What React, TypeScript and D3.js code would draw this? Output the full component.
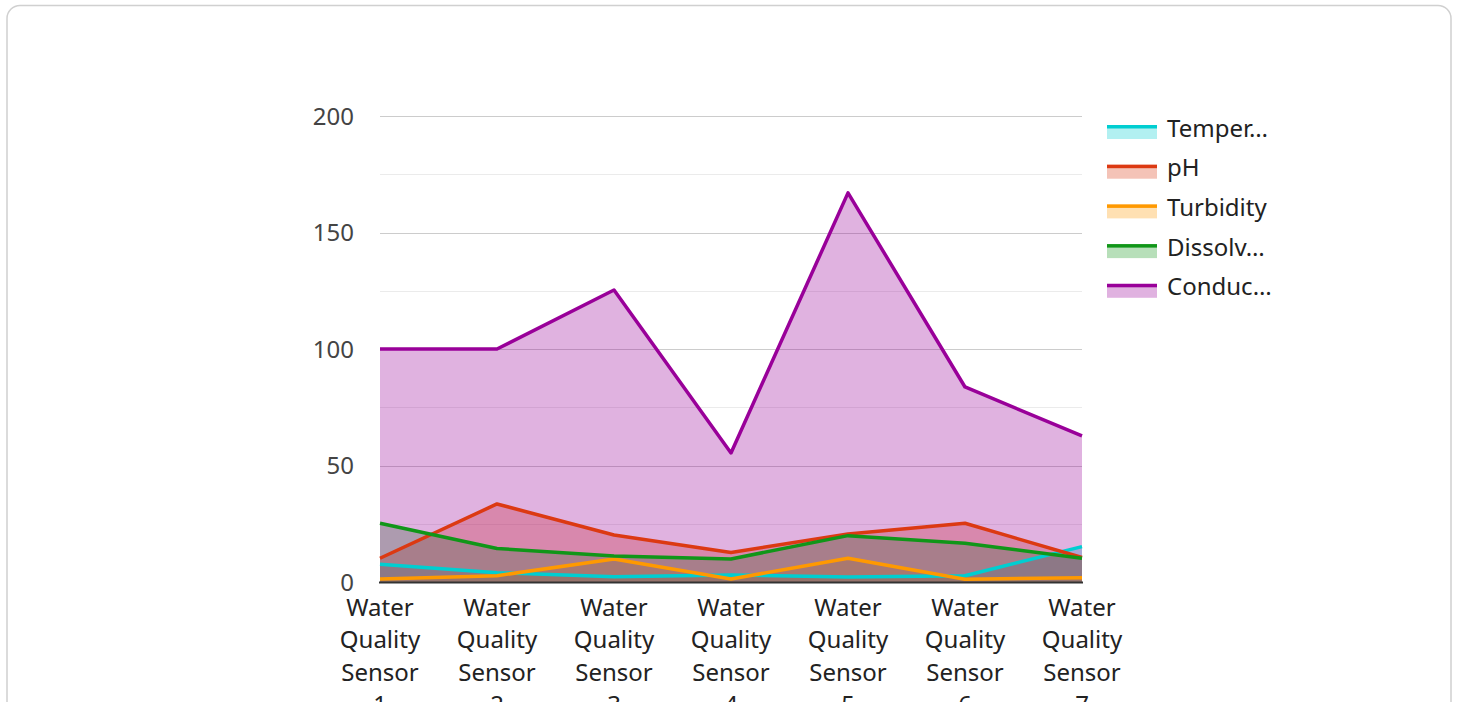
import React, { useRef, useEffect } from 'react';
import * as d3 from 'd3';

const categories = [
  'Water Quality Sensor 1',
  'Water Quality Sensor 2',
  'Water Quality Sensor 3',
  'Water Quality Sensor 4',
  'Water Quality Sensor 5',
  'Water Quality Sensor 6',
  'Water Quality Sensor 7',
];

const seriesNames = ['Temperature', 'pH', 'Turbidity', 'Dissolved Oxygen', 'Conductivity'];
const legendLabels = ['Temper…', 'pH', 'Turbidity', 'Dissolv…', 'Conduc…'];
const seriesColors = ['#00ced1', '#dc3912', '#ff9900', '#109618', '#990099'];

const temperature = [7.6, 4, 2.3, 3, 2.1, 2.7, 15.2];
const ph = [10.2, 33.5, 20.2, 12.7, 20.6, 25.2, 10.5];
const turbidity = [1.3, 2.7, 9.9, 1.3, 10.2, 1.2, 1.8];
const dissolvedOxygen = [25.2, 14.4, 11.2, 9.9, 19.9, 16.6, 10.2];
const conductivity = [100, 100, 125.3, 55.4, 167, 83.7, 62.7];

const majorTicks = [0, 50, 100, 150, 200];
const minorTicks = [25, 75, 125, 175];

const App = () => {
  const svgRef = useRef(null);

  useEffect(() => {
    const svg = d3.select(svgRef.current);
    svg.selectAll('*').remove();

    const width = 1458;
    const marginLeft = 380;
    const marginRight = 376;
    const marginTop = 116;
    const plotBottom = 582;
    const font = "'Noto Sans', 'Open Sans', sans-serif";
    const fontSize = 24;

    const data = [temperature, ph, turbidity, dissolvedOxygen, conductivity];

    // card frame
    svg.append('rect')
      .attr('x', 7)
      .attr('y', 5.5)
      .attr('width', 1444)
      .attr('height', 720)
      .attr('rx', 13)
      .attr('fill', '#fff')
      .attr('stroke', '#d0d0d0')
      .attr('stroke-width', 1.5);

    const x = d3.scalePoint()
      .domain(categories)
      .range([marginLeft, width - marginRight]);

    const y = d3.scaleLinear()
      .domain([0, 200])
      .range([plotBottom, marginTop]);

    // gridlines
    svg.append('g')
      .selectAll('line')
      .data(minorTicks)
      .join('line')
      .attr('x1', marginLeft)
      .attr('x2', width - marginRight)
      .attr('y1', d => Math.round(y(d)) + 0.5)
      .attr('y2', d => Math.round(y(d)) + 0.5)
      .attr('stroke', '#ebebeb');

    svg.append('g')
      .selectAll('line')
      .data(majorTicks.filter(d => d > 0))
      .join('line')
      .attr('x1', marginLeft)
      .attr('x2', width - marginRight)
      .attr('y1', d => Math.round(y(d)) + 0.5)
      .attr('y2', d => Math.round(y(d)) + 0.5)
      .attr('stroke', '#cccccc');

    // y labels
    svg.append('g')
      .selectAll('text')
      .data(majorTicks)
      .join('text')
      .attr('x', 354)
      .attr('y', d => y(d))
      .attr('dy', '0.36em')
      .attr('text-anchor', 'end')
      .attr('font-family', font)
      .attr('font-size', fontSize)
      .attr('fill', '#444')
      .text(d => d);

    const area = d3.area<number>()
      .x((d, i) => x(categories[i]))
      .y0(y(0))
      .y1(d => y(d));

    const line = d3.line<number>()
      .x((d, i) => x(categories[i]))
      .y(d => y(d));

    svg.append('g')
      .selectAll('path')
      .data(data)
      .join('path')
      .attr('d', d => area(d))
      .attr('fill', (d, i) => seriesColors[i])
      .attr('fill-opacity', 0.3);

    svg.append('g')
      .selectAll('path')
      .data(data)
      .join('path')
      .attr('d', d => line(d))
      .attr('fill', 'none')
      .attr('stroke', (d, i) => seriesColors[i])
      .attr('stroke-width', 3.5)
      .attr('stroke-linejoin', 'round');

    // baseline
    svg.append('line')
      .attr('x1', marginLeft - 1)
      .attr('x2', width - marginRight + 1)
      .attr('y1', y(0) + 0.5)
      .attr('y2', y(0) + 0.5)
      .attr('stroke', '#333')
      .attr('stroke-width', 2);

    // x labels, wrapped word by word
    const xLabels = svg.append('g')
      .selectAll('text')
      .data(categories)
      .join('text')
      .attr('text-anchor', 'middle')
      .attr('font-family', font)
      .attr('font-size', fontSize)
      .attr('fill', '#222');

    xLabels.each(function (d) {
      const t = d3.select(this);
      d.split(' ').forEach((word, i) => {
        t.append('tspan')
          .attr('x', x(d))
          .attr('y', 607 + i * 32.5)
          .attr('dy', '0.36em')
          .text(word);
      });
    });

    // legend
    const legend = svg.append('g')
      .selectAll('g')
      .data(seriesNames)
      .join('g')
      .attr('transform', (d, i) => `translate(1107, ${128 + i * 39.7})`);

    legend.append('rect')
      .attr('x', 0)
      .attr('y', -3)
      .attr('width', 50)
      .attr('height', 14)
      .attr('fill', (d, i) => seriesColors[i])
      .attr('fill-opacity', 0.3);

    legend.append('rect')
      .attr('x', 0)
      .attr('y', -3)
      .attr('width', 50)
      .attr('height', 3.5)
      .attr('fill', (d, i) => seriesColors[i]);

    legend.append('text')
      .attr('x', 60)
      .attr('y', 0)
      .attr('dy', '0.36em')
      .attr('font-family', font)
      .attr('font-size', fontSize)
      .attr('fill', '#222')
      .text((d, i) => legendLabels[i]);
  }, []);

  return (
    <svg
      ref={svgRef}
      width={1458}
      height={702}
      style={{ position: 'absolute', left: 0, top: 0, display: 'block' }}
    />
  );
};

export default App;
